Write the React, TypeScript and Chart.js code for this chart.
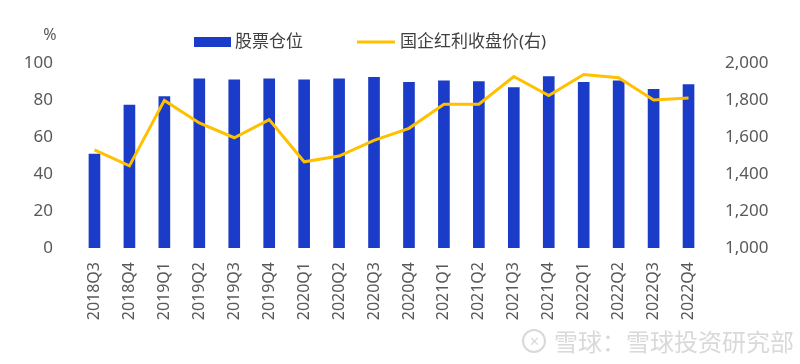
import React, { useEffect, useRef } from "react";
import { Chart, registerables } from "chart.js";

Chart.register(...registerables);

const categories = [
  "2018Q3", "2018Q4", "2019Q1", "2019Q2", "2019Q3", "2019Q4",
  "2020Q1", "2020Q2", "2020Q3", "2020Q4", "2021Q1", "2021Q2",
  "2021Q3", "2021Q4", "2022Q1", "2022Q2", "2022Q3", "2022Q4",
];
const stockPosition = [
  50.8, 77.3, 81.8, 91.4, 90.9, 91.4, 90.9, 91.4, 92.3,
  89.6, 90.3, 90.0, 86.7, 92.7, 89.6, 90.3, 85.8, 88.3,
];
const closePrice = [
  1531, 1444, 1798, 1676, 1596, 1694, 1466, 1497, 1582,
  1647, 1777, 1777, 1927, 1824, 1938, 1920, 1800, 1811,
];
const leftTicks = [0, 20, 40, 60, 80, 100];
const rightTicks = [1000, 1200, 1400, 1600, 1800, 2000];
const barLabel = "股票仓位";
const lineLabel = "国企红利收盘价(右)";
const unitLabel = "%";

const FONT = "'Noto Sans', 'Noto Sans CJK SC', sans-serif";
const BAR_COLOR = "#1a3cc8";
const LINE_COLOR = "#ffc000";
const TEXT_COLOR = "#595959";

const overlayPlugin = {
  id: "overlay",
  afterDraw(chart: any) {
    const ctx = chart.ctx;
    const area = chart.chartArea;
    const y = chart.scales.y;
    ctx.save();
    // unit label
    ctx.fillStyle = TEXT_COLOR;
    ctx.font = `16px ${FONT}`;
    ctx.textAlign = "center";
    ctx.textBaseline = "middle";
    ctx.fillText(unitLabel, y.right - 27, area.top - 28);
    // legend
    const ly = area.top - 21;
    ctx.font = `17px ${FONT}`;
    ctx.textAlign = "left";
    ctx.fillStyle = BAR_COLOR;
    ctx.fillRect(194, ly - 5, 37, 10);
    ctx.fillStyle = "#404040";
    ctx.fillText(barLabel, 235, ly);
    ctx.strokeStyle = LINE_COLOR;
    ctx.lineWidth = 3;
    ctx.beginPath();
    ctx.moveTo(357, ly);
    ctx.lineTo(395, ly);
    ctx.stroke();
    ctx.fillStyle = "#404040";
    ctx.fillText(lineLabel, 400, ly);
    ctx.restore();
  },
};

export default function App() {
  const ref = useRef<HTMLCanvasElement | null>(null);
  useEffect(() => {
    document.body.style.margin = "0";
    if (!ref.current) return;
    const chart = new Chart(ref.current, {
      type: "bar",
      data: {
        labels: categories,
        datasets: [
          {
            type: "line",
            label: lineLabel,
            data: closePrice,
            yAxisID: "y1",
            borderColor: LINE_COLOR,
            backgroundColor: LINE_COLOR,
            borderWidth: 3,
            pointRadius: 0,
            tension: 0,
            order: 0,
          } as any,
          {
            type: "bar",
            label: barLabel,
            data: stockPosition,
            yAxisID: "y",
            backgroundColor: BAR_COLOR,
            borderColor: "#4a6ad8",
            borderWidth: 0,
            barThickness: 11,
            order: 1,
          },
        ],
      },
      options: {
        responsive: false,
        animation: false,
        layout: { padding: { top: 63, left: 0, right: 0, bottom: 0 } },
        plugins: {
          legend: { display: false },
          tooltip: { enabled: false },
        },
        scales: {
          x: {
            grid: { display: false, drawTicks: false },
            border: { display: false },
            ticks: {
              color: TEXT_COLOR,
              font: { family: FONT, size: 16 },
              minRotation: 90,
              maxRotation: 90,
              padding: 14,
              autoSkip: false,
            },
            afterFit(scale: any) {
              scale.height = 116;
            },
          },
          y: {
            position: "left",
            min: 0,
            max: 100,
            grid: { display: false, drawTicks: false },
            border: { display: false },
            afterBuildTicks(scale: any) {
              scale.ticks = leftTicks.map((v) => ({ value: v }));
            },
            ticks: {
              color: TEXT_COLOR,
              font: { family: FONT, size: 17 },
              padding: 24,
            },
            afterFit(scale: any) {
              scale.width = 77;
            },
          },
          y1: {
            position: "right",
            min: 1000,
            max: 2000,
            grid: { display: false, drawTicks: false },
            border: { display: false },
            afterBuildTicks(scale: any) {
              scale.ticks = rightTicks.map((v) => ({ value: v }));
            },
            ticks: {
              color: TEXT_COLOR,
              font: { family: FONT, size: 17 },
              padding: 19,
              callback: (v: any) => Number(v).toLocaleString("en-US"),
            },
            afterFit(scale: any) {
              scale.width = 94;
            },
          },
        },
      },
      plugins: [overlayPlugin],
    });
    return () => chart.destroy();
  }, []);
  return (
    <div style={{ position: "relative", width: 800, height: 364, background: "#fff" }}>
      <canvas ref={ref} width={800} height={364} style={{ display: "block" }} />
      <div
        style={{
          position: "absolute",
          left: 522,
          top: 326,
          fontFamily: "'Noto Sans CJK SC', sans-serif",
          fontSize: 24,
          lineHeight: "30px",
          color: "#d9d9d9",
          whiteSpace: "nowrap",
          display: "flex",
          alignItems: "center",
          gap: 8,
        }}
      >
        <span
          style={{
            display: "inline-block",
            width: 20,
            height: 20,
            borderRadius: "50%",
            border: "2px solid #d9d9d9",
            fontSize: 13,
            lineHeight: "20px",
            textAlign: "center",
          }}
        >
          ✕
        </span>
        <span>雪球：雪球投资研究部</span>
      </div>
    </div>
  );
}
